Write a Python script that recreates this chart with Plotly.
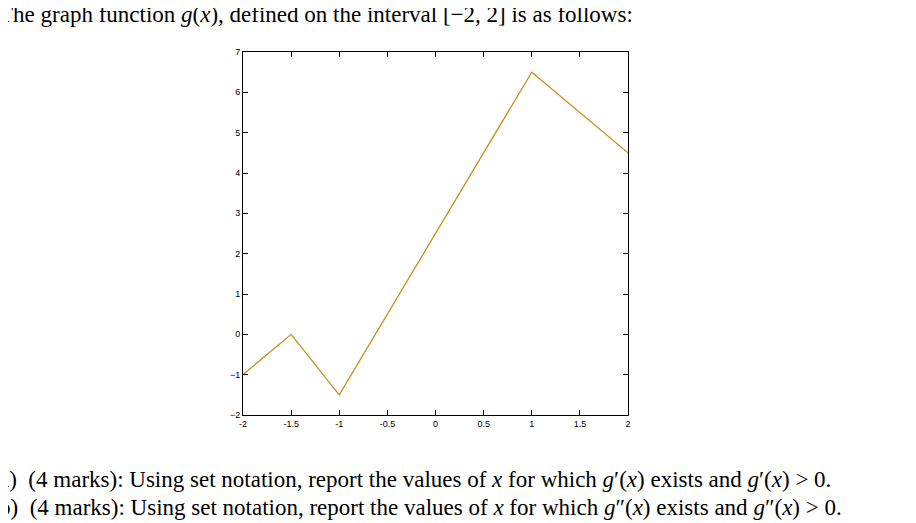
import plotly.graph_objects as go

x_vals = [-2, -1.5, -1, 1, 2]
g_vals = [-1, 0, -1.5, 6.5, 4.5]
x_ticks = [-2, -1.5, -1, -0.5, 0, 0.5, 1, 1.5, 2]
y_ticks = [-2, -1, 0, 1, 2, 3, 4, 5, 6, 7]

fig = go.Figure()
fig.add_trace(go.Scatter(x=x_vals, y=g_vals, mode="lines",
                         line=dict(color="#C8901E", width=1.3)))

axis_style = dict(showgrid=False, zeroline=False, showline=True, linecolor="black",
                  linewidth=1, mirror="ticks", ticks="inside", ticklen=5,
                  tickcolor="black", tickfont=dict(size=9, family="Arial", color="black"))
fig.update_xaxes(range=[-2, 2], tickvals=x_ticks,
                 ticktext=["-2", "-1.5", "-1", "-0.5", "0", "0.5", "1", "1.5", "2"], **axis_style)
fig.update_yaxes(range=[-2, 7], tickvals=y_ticks, **axis_style)

serif = dict(family="Liberation Serif, DejaVu Serif, serif", size=23, color="black")
fig.add_annotation(text="The graph function <i>g</i>(<i>x</i>), defined on the interval [−2, 2] is as follows:",
                   xref="paper", yref="paper", x=-0.64, y=1.0, yshift=52, xanchor="left",
                   yanchor="top", showarrow=False, font=serif)
fig.add_annotation(text="a)  (4 marks): Using set notation, report the values of <i>x</i> for which <i>g</i>′(<i>x</i>) exists and <i>g</i>′(<i>x</i>) &gt; 0.",
                   xref="paper", yref="paper", x=-0.64, y=0, yshift=-50, xanchor="left",
                   yanchor="top", showarrow=False, font=serif)
fig.add_annotation(text="b)  (4 marks): Using set notation, report the values of <i>x</i> for which <i>g</i>″(<i>x</i>) exists and <i>g</i>″(<i>x</i>) &gt; 0.",
                   xref="paper", yref="paper", x=-0.64, y=0, yshift=-78, xanchor="left",
                   yanchor="top", showarrow=False, font=serif)

fig.update_layout(width=916, height=523, showlegend=False,
                  margin=dict(l=235, r=296, t=44, b=116),
                  plot_bgcolor="white", paper_bgcolor="white")
fig.write_html("out.html")
